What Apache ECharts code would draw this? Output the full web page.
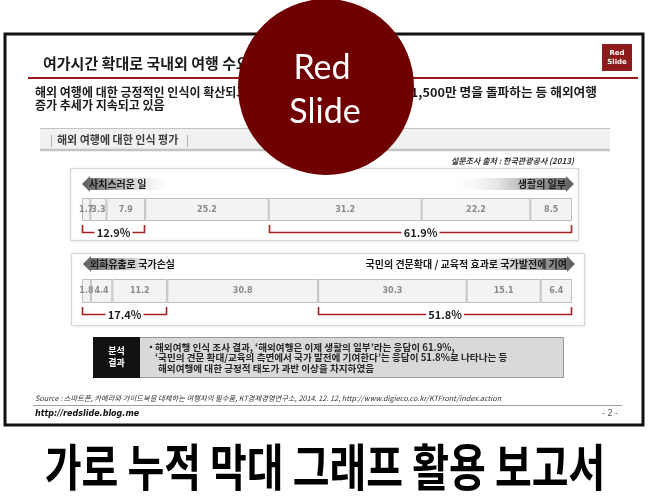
<!DOCTYPE html>
<html><head><meta charset="utf-8">
<script src="https://cdn.jsdelivr.net/npm/echarts@6/dist/echarts.min.js"></script>
<style>html,body{margin:0;padding:0;background:#fff}#c{width:650px;height:498px}</style>
</head><body><div id="c"></div>
<script>
// ---- data ----
const categories = ['해외여행 인식'];
const scalePoints = ['1', '2', '3', '4', '5', '6', '7'];
const values1 = [1.7, 3.3, 7.9, 25.2, 31.2, 22.2, 8.5];
const values2 = [1.8, 4.4, 11.2, 30.8, 30.3, 15.1, 6.4];
const leftLabels = ['사치스러운 일', '외화유출로 국가손실'];
const rightLabels = ['생활의 일부', '국민의 견문확대 / 교육적 효과로 국가발전에 기여'];
const negGroup = [0, 3];   // segments summed in left bracket
const posGroup = [4, 7];   // segments summed in right bracket
const axisMax = 100;

const KR = '"Noto Sans CJK KR", "Noto Sans", sans-serif';
const chart = echarts.init(document.getElementById('c'), null, {renderer: 'canvas'});

function T(x, y, text, font, fill, align, valign, extra) {
  return Object.assign({type: 'text', x: x, y: y, silent: true,
    style: {text: text, font: font, fill: fill, textAlign: align || 'left', textVerticalAlign: valign || 'middle'}}, extra || {});
}
function sum(a) { return a.reduce((s, v) => s + v, 0); }

function barSeries(idx, vals) {
  return scalePoints.map((p, k) => ({
    type: 'bar', name: p, stack: 's' + idx, xAxisIndex: idx, yAxisIndex: idx,
    data: [vals[k]], barWidth: '100%', silent: true,
    itemStyle: {color: '#f3f3f3', borderColor: '#bdbdbd', borderWidth: 1},
    label: {show: true, position: 'inside', formatter: '{c}', fontSize: 8, fontWeight: 'bold',
      color: '#8a8a8a', fontFamily: 'DejaVu Sans'}
  }));
}
function bracketSeries(idx, vals) {
  const groups = [negGroup, posGroup].map(g => {
    const start = sum(vals.slice(0, g[0]));
    const span = sum(vals.slice(g[0], g[1]));
    return {start: start, end: start + span, label: span.toFixed(1) + '%'};
  });
  return {
    type: 'custom', xAxisIndex: idx, yAxisIndex: idx, clip: false, silent: true, z: 5,
    data: groups.map(g => [g.start, g.end, 0]),
    encode: {x: [0, 1], y: 2},
    renderItem: function (params, api) {
      const p0 = api.coord([api.value(0), api.value(2)]);
      const p1 = api.coord([api.value(1), api.value(2)]);
      const band = api.size([0, 1])[1];
      const yb = p0[1] + band / 2;
      const y1 = yb + 4, y2 = yb + 11.5;
      const x0 = Math.round(p0[0]) + 0.5, x1 = Math.round(p1[0]) - 0.5;
      return {type: 'group', children: [
        {type: 'polyline', shape: {points: [[x0, y1], [x0, y2], [x1, y2], [x1, y1]]},
          style: {stroke: '#a3201f', lineWidth: 1.6, fill: null}},
        {type: 'rect', shape: {x: (x0 + x1) / 2 - 19, y: y2 - 7, width: 38, height: 14}, style: {fill: '#fff'}},
        {type: 'text', x: (x0 + x1) / 2, y: y2, style: {text: groups[params.dataIndex].label,
          font: 'bold 11px ' + KR, fill: '#1e1e1e', textAlign: 'center', textVerticalAlign: 'middle'}}
      ]};
    }
  };
}

function leftArrow(tx, ty, endX) {
  return {type: 'polygon', silent: true,
    shape: {points: [[tx, ty], [tx + 8, ty - 8], [tx + 8, ty - 6], [endX, ty - 6], [endX, ty + 6], [tx + 8, ty + 6], [tx + 8, ty + 8]]},
    style: {fill: {type: 'linear', x: 0, y: 0, x2: 1, y2: 0, colorStops: [
      {offset: 0, color: '#5c5c5c'}, {offset: 0.35, color: '#a8a8a8'}, {offset: 1, color: 'rgba(255,255,255,0)'}]}}};
}
function rightArrow(tx, ty, startX) {
  return {type: 'polygon', silent: true,
    shape: {points: [[tx, ty], [tx - 8, ty - 8], [tx - 8, ty - 6], [startX, ty - 6], [startX, ty + 6], [tx - 8, ty + 6], [tx - 8, ty + 8]]},
    style: {fill: {type: 'linear', x: 0, y: 0, x2: 1, y2: 0, colorStops: [
      {offset: 0, color: 'rgba(255,255,255,0)'}, {offset: 0.65, color: '#a8a8a8'}, {offset: 1, color: '#5c5c5c'}]}}};
}

const graphics = [
  // slide frame
  {type: 'rect', silent: true, shape: {x: 5, y: 34, width: 638, height: 391}, style: {fill: '#fff', stroke: '#111', lineWidth: 3}, z: -10},
  T(43, 63, '여가시간 확대로 국내외 여행 수요 증가', 'bold 15px ' + KR, '#1a1a1a'),
  {type: 'line', silent: true, shape: {x1: 28, y1: 78, x2: 638, y2: 78}, style: {stroke: '#9a1b1b', lineWidth: 2}},
  {type: 'rect', silent: true, shape: {x: 602, y: 44, width: 30, height: 27}, style: {fill: '#8e1b1b'}},
  T(617, 53, 'Red', 'bold 7px "DejaVu Sans"', '#fff', 'center'),
  T(617, 62, 'Slide', 'bold 7px "DejaVu Sans"', '#fff', 'center'),
  T(35, 92, '해외 여행에 대한 긍정적인 인식이 확산되고, 해외여행객 수', 'bold 12px ' + KR, '#1a1a1a'),
  T(597, 92, '1,500만 명을 돌파하는 등 해외여행', 'bold 12px ' + KR, '#1a1a1a', 'right', 'middle', {scaleX: 1.06}),
  T(35, 105, '증가 추세가 지속되고 있음', 'bold 12px ' + KR, '#1a1a1a'),
  // section header
  {type: 'rect', silent: true, shape: {x: 40, y: 128, width: 570, height: 22}, style: {fill: '#f1f1f1'}},
  {type: 'line', silent: true, shape: {x1: 40, y1: 128.5, x2: 610, y2: 128.5}, style: {stroke: '#c4c4c4', lineWidth: 1}},
  {type: 'line', silent: true, shape: {x1: 40, y1: 150, x2: 610, y2: 150}, style: {stroke: '#c4c4c4', lineWidth: 2.5}},
  T(50, 139.5, '|', '11px ' + KR, '#9a9a9a'),
  T(57, 139.5, '해외 여행에 대한 인식 평가', 'bold 11px ' + KR, '#3c3c3c'),
  T(186, 139.5, '|', '11px ' + KR, '#9a9a9a'),
  T(574, 161, '설문조사 출처 : 한국관광공사 (2013)', 'italic bold 8px ' + KR, '#333', 'right'),
  // panels
  {type: 'rect', silent: true, shape: {x: 70.5, y: 168.5, width: 508, height: 72}, style: {fill: '#fff', stroke: '#d8d8d8', lineWidth: 1, shadowBlur: 3, shadowColor: 'rgba(0,0,0,0.12)'}},
  {type: 'rect', silent: true, shape: {x: 71.5, y: 253.5, width: 513, height: 72}, style: {fill: '#fff', stroke: '#d8d8d8', lineWidth: 1, shadowBlur: 3, shadowColor: 'rgba(0,0,0,0.12)'}},
  leftArrow(82, 184, 175),
  T(89, 184, leftLabels[0], 'bold 10px ' + KR, '#1a1a1a'),
  rightArrow(574, 184, 452),
  T(566, 184, rightLabels[0], 'bold 10px ' + KR, '#1a1a1a', 'right'),
  leftArrow(83, 264, 178),
  T(90, 264, leftLabels[1], 'bold 10px ' + KR, '#1a1a1a'),
  rightArrow(575, 264, 462),
  T(567, 264, rightLabels[1], 'bold 10px ' + KR, '#1a1a1a', 'right'),
  // analysis box
  {type: 'rect', silent: true, shape: {x: 139.5, y: 337.5, width: 424, height: 40}, style: {fill: '#d9d9d9', stroke: '#999', lineWidth: 1}},
  {type: 'rect', silent: true, shape: {x: 93, y: 337, width: 47, height: 41}, style: {fill: '#111'}},
  T(116.5, 351, '분석', 'bold 9px ' + KR, '#fff', 'center'),
  T(116.5, 363, '결과', 'bold 9px ' + KR, '#fff', 'center'),
  T(147, 347, '▪', '8px ' + KR, '#222'),
  T(155, 347, '해외여행 인식 조사 결과, ‘해외여행은 이제 생활의 일부’라는 응답이 61.9%,', 'bold 9.6px ' + KR, '#262626'),
  T(155, 357.5, '‘국민의 견문 확대/교육의 측면에서 국가 발전에 기여한다’는 응답이 51.8%로 나타나는 등', 'bold 9.6px ' + KR, '#262626'),
  T(158, 368, '해외여행에 대한 긍정적 태도가 과반 이상을 차지하였음', 'bold 9.6px ' + KR, '#262626'),
  // footer
  T(35, 398, 'Source : 스마트폰, 카메라와 가이드북을 대체하는 여행자의 필수품, KT경제경영연구소, 2014. 12. 12, http://www.digieco.co.kr/KTFront/index.action', 'italic 7.3px ' + KR, '#333'),
  {type: 'line', silent: true, shape: {x1: 33, y1: 405.5, x2: 622, y2: 405.5}, style: {stroke: '#a0a0a0', lineWidth: 1}},
  T(35, 414, 'http://redslide.blog.me', 'italic bold 8px "DejaVu Sans"', '#111'),
  T(610, 414, '- 2 -', '8px "DejaVu Sans"', '#555', 'center'),
  // bottom caption
  T(325, 467, '가로 누적 막대 그래프 활용 보고서', 'bold 50px ' + KR, '#000', 'center', 'middle', {scaleX: 0.8}),
  // watermark circle
  {type: 'circle', silent: true, shape: {cx: 326, cy: 87, r: 88}, style: {fill: '#700000'}, z: 100},
  T(322, 68, 'Red', '34px Lato', '#fff', 'center', 'middle', {z: 101}),
  T(325, 112, 'Slide', '34px Lato', '#fff', 'center', 'middle', {z: 101})
];

chart.setOption({
  animation: false,
  backgroundColor: '#fff',
  grid: [
    {left: 82, top: 198, width: 490, height: 23},
    {left: 82, top: 279, width: 490, height: 24}
  ],
  xAxis: [
    {gridIndex: 0, type: 'value', min: 0, max: axisMax, show: false},
    {gridIndex: 1, type: 'value', min: 0, max: axisMax, show: false}
  ],
  yAxis: [
    {gridIndex: 0, type: 'category', data: categories, show: false},
    {gridIndex: 1, type: 'category', data: categories, show: false}
  ],
  series: [].concat(barSeries(0, values1), barSeries(1, values2), [bracketSeries(0, values1), bracketSeries(1, values2)]),
  graphic: {elements: graphics}
});
</script></body></html>
